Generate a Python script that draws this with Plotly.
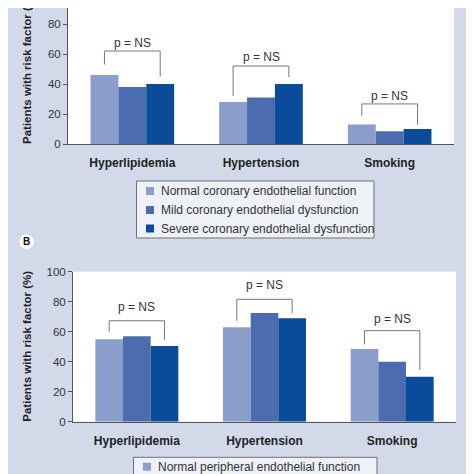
import plotly.graph_objects as go

# risk factors on the x axis
categories = ["Hyperlipidemia", "Hypertension", "Smoking"]

# panel A: coronary endothelial function groups
coronary_names = ["Normal coronary endothelial function",
                  "Mild coronary endothelial dysfunction",
                  "Severe coronary endothelial dysfunction"]
coronary_normal = [46, 28, 13]
coronary_mild = [38, 31, 8.5]
coronary_severe = [40, 40, 10]

# panel B: peripheral endothelial function groups
peripheral_names = ["Normal peripheral endothelial function",
                    "Mild peripheral endothelial dysfunction",
                    "Severe peripheral endothelial dysfunction"]
peripheral_normal = [55, 63, 48.5]
peripheral_mild = [57, 72.5, 40]
peripheral_severe = [50.5, 69, 30]

y_ticks = [0, 20, 40, 60, 80, 100]
p_label = "p = NS"

colors = ["#8b9ecb", "#4b6caf", "#0a4c99"]
bg = "#d2daea"
font = "Liberation Sans, Arial, sans-serif"
# the page body keeps an 8px margin, so the figure is drawn 8px in from the window
OFF = 8
W = H = 474 - OFF
bargap = 0.35
bar_w = (1 - bargap) / 3


def px_x(x):
    # window pixel -> paper fraction
    return (x - OFF) / W


def px_y(y):
    return 1 - (y - OFF) / H


fig = go.Figure()

for i, vals in enumerate([coronary_normal, coronary_mild, coronary_severe]):
    fig.add_trace(go.Bar(x=categories, y=vals, name=coronary_names[i],
                         marker=dict(color=colors[i], line=dict(width=0)),
                         xaxis="x", yaxis="y", showlegend=False))
for i, vals in enumerate([peripheral_normal, peripheral_mild, peripheral_severe]):
    fig.add_trace(go.Bar(x=categories, y=vals, name=peripheral_names[i],
                         marker=dict(color=colors[i], line=dict(width=0)),
                         xaxis="x2", yaxis="y2", showlegend=False))

shapes = []
annotations = []

# lighter strip along the right edge of the scanned figure
shapes.append(dict(type="rect", xref="paper", yref="paper", x0=px_x(467), x1=1, y0=0, y1=1,
                   fillcolor="#e3e8f1", line=dict(width=0), layer="below"))

# significance brackets: (top, left leg end, right leg end, text centre)
brackets_a = [(62, 53, 45, 67.5), (52, 32, 44.7, 57.8), (26.7, 19, 12.9, 32.2)]
brackets_b = [(67.3, 60, 54.5, 76.7), (81.6, 67.3, 72.3, 91.1), (60.7, 51.6, 34.5, 68.5)]
for xr, yr, brs in [("x", "y", brackets_a), ("x2", "y2", brackets_b)]:
    for i, (top, left, right, ty) in enumerate(brs):
        x0, x1 = i - bar_w, i + bar_w
        shapes.append(dict(type="path", xref=xr, yref=yr,
                           path=f"M{x0},{left} L{x0},{top} L{x1},{top} L{x1},{right}",
                           line=dict(color="#777777", width=1)))
        annotations.append(dict(xref=xr, yref=yr, x=i, y=ty, text=p_label, showarrow=False,
                                xanchor="center", yanchor="middle",
                                font=dict(family=font, size=12, color="#333333")))


def legend_block(left, right, top, names, row_ys, sq_x, text_x):
    shapes.append(dict(type="rect", xref="paper", yref="paper",
                       x0=px_x(left), x1=px_x(right), y0=px_y(top), y1=px_y(top + 57),
                       line=dict(color="#707070", width=1), fillcolor="#eef1f7"))
    for i, name in enumerate(names):
        yc = row_ys[i]
        shapes.append(dict(type="rect", xref="paper", yref="paper",
                           x0=px_x(sq_x - 4), x1=px_x(sq_x + 4), y0=px_y(yc + 4), y1=px_y(yc - 4),
                           line=dict(width=0), fillcolor=colors[i]))
        annotations.append(dict(xref="paper", yref="paper", x=px_x(text_x), y=px_y(yc),
                                xanchor="left", yanchor="middle", text=name, showarrow=False,
                                font=dict(family=font, size=12, color="#333333")))


legend_block(136.5, 374, 181, coronary_names, [191, 210, 228.5], 150, 158.5)
legend_block(133.5, 377, 457.3, peripheral_names, [466.7, 485.4, 504], 147, 155.5)

# panel letter
shapes.append(dict(type="circle", xref="paper", yref="paper",
                   x0=px_x(19.5), x1=px_x(34), y0=px_y(249), y1=px_y(234.5),
                   fillcolor="white", line=dict(width=0)))
annotations.append(dict(xref="paper", yref="paper", x=px_x(26.7), y=px_y(241.8), text="<b>B</b>",
                        xanchor="center", yanchor="middle",
                        showarrow=False, font=dict(family=font, size=10, color="#111111")))

# y axis titles
for yc in [69, 346.7]:
    annotations.append(dict(xref="paper", yref="paper", x=px_x(27), y=px_y(yc),
                            xanchor="center", yanchor="middle",
                            text="<b>Patients with risk factor (%)</b>", textangle=-90,
                            showarrow=False, font=dict(family=font, size=11.5, color="#222222")))

yaxis_style = dict(tickvals=y_ticks, showline=True, linecolor="#555555", linewidth=1,
                   ticks="outside", ticklen=4, tickcolor="#555555", showgrid=False,
                   zeroline=False, tickfont=dict(family=font, size=11.5, color="#333333"))
xaxis_style = dict(showline=True, linecolor="#555555", linewidth=1, ticks="",
                   showgrid=False, ticklabelstandoff=8,
                   tickfont=dict(family=font, size=12, color="#222222", weight="bold"))

# top panel: 1.5 px per unit, zero line at window y=144, cut by the top edge
top_px = 144 - OFF
fig.update_layout(
    width=W, height=H,
    margin=dict(l=0, r=0, t=0, b=0, autoexpand=False),
    paper_bgcolor=bg, plot_bgcolor="white",
    barmode="group", bargap=bargap, bargroupgap=0,
    xaxis=dict(domain=[px_x(68), px_x(454)], anchor="y", **xaxis_style),
    yaxis=dict(domain=[px_y(144), 1], anchor="x", range=[0, top_px / 1.5], **yaxis_style),
    xaxis2=dict(domain=[px_x(73), px_x(456)], anchor="y2", **xaxis_style),
    yaxis2=dict(domain=[px_y(421.7), px_y(271.7)], anchor="x2", range=[0, 100], **yaxis_style),
    shapes=shapes, annotations=annotations,
)

fig.write_html("out.html")
